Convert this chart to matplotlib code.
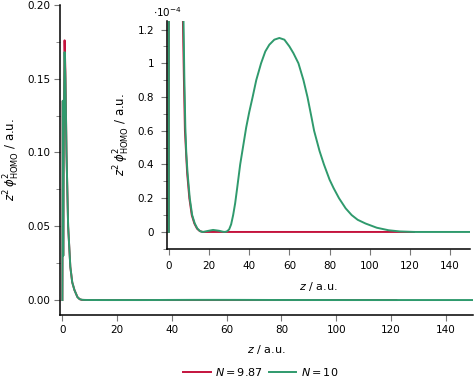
import numpy as np
import matplotlib.pyplot as plt
from matplotlib.ticker import MultipleLocator, FormatStrFormatter, FuncFormatter

plt.rcParams['font.size'] = 7.5
plt.rcParams['mathtext.fontset'] = 'dejavusans'

# data (z in a.u., z^2 phi^2 in a.u.)
z_red = [0, 0.15, 0.3, 0.5, 0.8, 1.1, 1.5, 2.1, 2.9, 3.6, 4.4, 5.5, 6.3, 7.0,
         7.5, 8.0, 9.1, 10.2, 11.4, 12.7, 14.0, 15.4, 17, 25, 40, 60, 80, 100, 122]
y_red = [0, 0.135, 0.03, 0.11, 0.176, 0.155, 0.10, 0.05, 0.0225, 0.012, 0.0068,
         0.002, 0.0006, 1.25e-4,
         0.9e-4, 0.6e-4, 0.35e-4, 0.2e-4, 0.1e-4, 0.05e-4, 0.02e-4, 0.005e-4,
         0, 0, 0, 0, 0, 0, 0]

z_green = [0, 0.15, 0.3, 0.5, 0.8, 1.1, 1.5, 2.1, 2.9, 3.6, 4.4, 5.5, 6.3, 7.3,
           7.7, 8.2, 8.7, 9.3, 10.4, 11.6, 12.9, 14.2, 15.4, 16.3, 17, 19, 22,
           25, 27, 28, 29, 30, 31, 32, 33, 34, 35.5, 37, 38.5, 40, 41.7, 43.5,
           45.9, 48, 50, 52.5, 55, 57.5, 60, 62, 64.5, 67, 69, 71, 72.3, 75,
           77.2, 80, 82, 84.7, 88, 91, 94, 97.9, 103.5, 109.4, 115, 122, 130,
           140, 150]
y_green = [0, 0.135, 0.03, 0.11, 0.168, 0.15, 0.10, 0.05, 0.0225, 0.012, 0.0068,
           0.002, 0.0006, 1.25e-4,
           0.92e-4, 0.62e-4, 0.46e-4, 0.35e-4, 0.2e-4, 0.1e-4, 0.05e-4,
           0.02e-4, 0.006e-4, 0.001e-4, 0.0, 0.005e-4, 0.012e-4,
           0.007e-4, 0.001e-4, 0.0, 0.004e-4, 0.015e-4, 0.045e-4, 0.1e-4,
           0.17e-4, 0.26e-4, 0.4e-4, 0.51e-4, 0.62e-4, 0.71e-4, 0.8e-4, 0.9e-4,
           1.0e-4, 1.07e-4, 1.11e-4, 1.14e-4, 1.15e-4, 1.14e-4, 1.1e-4,
           1.06e-4, 1.0e-4, 0.9e-4, 0.8e-4, 0.68e-4, 0.6e-4, 0.48e-4,
           0.4e-4, 0.31e-4, 0.26e-4, 0.2e-4, 0.14e-4, 0.1e-4, 0.072e-4,
           0.05e-4, 0.025e-4, 0.01e-4, 0.003e-4, 0.0, 0, 0, 0]

red = '#c4133d'
green = '#2f9a6d'
ylab = r'$z^2\,\phi^2_{\mathrm{HOMO}}$ / a.u.'

fig = plt.figure(figsize=(4.74, 3.77), dpi=100)

def style(ax):
    for s in ['top', 'right']:
        ax.spines[s].set_visible(False)
    for s in ['left', 'bottom']:
        ax.spines[s].set_linewidth(1.1)
    ax.tick_params(which='both', direction='out', color='#777777')
    ax.tick_params(which='major', length=4, pad=3)
    ax.tick_params(which='minor', length=3)

# main plot
ax = fig.add_axes([0.127, 0.165, 0.871, 0.822])
ax.plot(z_red, y_red, color=red, lw=1.4, label='$N = 9.87$')
ax.plot(z_green, y_green, color=green, lw=1.4, label='$N = 10$')
ax.set_xlim(-0.8, 150)
ax.set_ylim(-0.01, 0.20)
ax.xaxis.set_major_locator(MultipleLocator(20))
ax.yaxis.set_major_locator(MultipleLocator(0.05))
ax.yaxis.set_minor_locator(MultipleLocator(0.025))
ax.yaxis.set_major_formatter(FormatStrFormatter('%.2f'))
ax.set_xlabel('$z$ / a.u.', labelpad=6, fontsize=8)
ax.set_ylabel(ylab, labelpad=4, fontsize=8.5)
style(ax)

# inset
ins = fig.add_axes([0.352, 0.34, 0.64, 0.604])
ins.plot(z_red, np.array(y_red) * 1e4, color=red, lw=1.4)
ins.plot(z_green, np.array(y_green) * 1e4, color=green, lw=1.4)
ins.set_xlim(-1, 150)
ins.set_ylim(-0.1, 1.25)
ins.xaxis.set_major_locator(MultipleLocator(20))
ins.yaxis.set_major_locator(MultipleLocator(0.2))
ins.yaxis.set_minor_locator(MultipleLocator(0.1))
ins.yaxis.set_major_formatter(FuncFormatter(lambda v, p: '%g' % round(v, 2)))
ins.set_xlabel('$z$ / a.u.', labelpad=6, fontsize=8)
ins.set_ylabel(ylab, labelpad=4, fontsize=8.5)
style(ins)
ins.tick_params(which='major', pad=5)
ins.text(-0.045, 1.01, r'$\cdot 10^{-4}$', transform=ins.transAxes,
         ha='left', va='bottom')

fig.legend(loc='center', bbox_to_anchor=(0.55, 0.013), ncol=2, frameon=False,
           handlelength=2.5, columnspacing=0.5, handletextpad=0.4, fontsize=8)

fig.savefig('out.png', dpi=100)
